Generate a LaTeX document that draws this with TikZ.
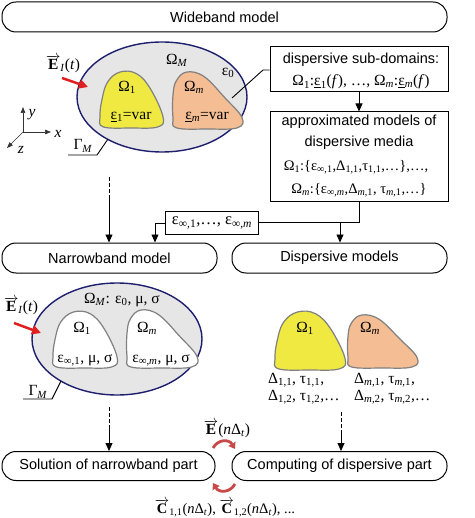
\documentclass[tikz,border=0pt]{standalone}
\usepackage{fontspec}
\setmainfont{Liberation Serif}
\newfontfamily\sansf{Liberation Sans}
\usetikzlibrary{arrows.meta}
\definecolor{navy}{HTML}{1E1E6E}
\definecolor{ellfill}{HTML}{E6E6E6}
\definecolor{yel}{HTML}{EFE941}
\definecolor{ora}{HTML}{F4BD93}
\definecolor{blobline}{HTML}{808080}
\definecolor{redarr}{HTML}{E02020}
\definecolor{curvred}{HTML}{C94848}
\newcommand{\sbs}[1]{\textsubscript{#1}}
\newcommand{\vecE}{$\overrightarrow{\mbox{\textbf{E}}}$}
\newcommand{\vecC}{$\overrightarrow{\mbox{\textbf{C}}}$}
\newcommand{\shapeA}{plot[smooth cycle, tension=0.65] coordinates {(0.12,0.18) (0.32,0.0) (0.58,0.03) (0.8,0.3) (1.0,0.8) (0.92,0.98) (0.5,1.0) (0.05,0.98) (0.0,0.8) (0.03,0.5)}}
\newcommand{\shapeB}{plot[smooth cycle, tension=0.65] coordinates {(0.05,0.15) (0.2,0.0) (0.45,0.08) (0.75,0.45) (1.0,0.8) (0.93,0.98) (0.5,1.0) (0.05,0.98) (0.0,0.8) (0.0,0.4)}}
\begin{document}
\begin{tikzpicture}[x=1pt,y=-1pt,
 rbox/.style={draw, line width=1pt, rounded corners=14pt, minimum height=30pt, inner sep=0pt, font=\sansf\fontsize{14.5}{16}\selectfont},
 sbox/.style={draw, line width=1pt, inner sep=0pt},
 stxt/.style={inner sep=0pt, font=\sansf\fontsize{14.5}{16}\selectfont},
 lab/.style={inner sep=0pt, font=\fontsize{15.5}{17}\selectfont},
 slab/.style={inner sep=0pt, font=\fontsize{14.5}{17}\selectfont},
 arr/.style={-{Triangle[length=8pt,width=7pt]}, line width=0.8pt},
 axarr/.style={-{Triangle[length=6pt,width=4.5pt]}, line width=0.7pt, black!80},
 ell/.style={draw=navy, fill=ellfill, line width=1.4pt},
 blob/.style={draw=blobline, line width=1.2pt},
 redarrow/.style={redarr, line width=2.5pt, -{Triangle[length=9pt,width=9pt]}},
 curvarrow/.style={curvred, line width=2.8pt, -{Triangle[length=6pt,width=8pt]}}
]
\useasboundingbox (0,0) rectangle (474,518);

% ---------- boxes ----------
\node[rbox, minimum width=445pt] (wide) at (224.5,17) {Wideband model};
\node[rbox, minimum width=215pt] (narrow) at (109.5,258) {Narrowband model};
\node[rbox, minimum width=215pt] (disp) at (339.5,258) {Dispersive models};
\node[rbox, minimum width=213pt, minimum height=29pt] (sol) at (108.5,466) {Solution of narrowband part};
\node[rbox, minimum width=215pt, minimum height=29pt] (comp) at (339.5,466) {Computing of dispersive part};

% ---------- top ellipse ----------
\draw[ell] (162,97) ellipse [x radius=85pt, y radius=55pt];
\begin{scope}[shift={(100,72)}, xscale=63, yscale=56]
 \draw[blob, fill=yel] \shapeA;
\end{scope}
\begin{scope}[shift={(173,72)}, xscale=69, yscale=57]
 \draw[blob, fill=ora] \shapeB;
\end{scope}
\node[lab] (omM) at (177,60) {Ω\sbs{\textit{M}}};
\node[lab] (eps0) at (228,73) {ε\sbs{0}};
\node[lab] (om1) at (127,87) {Ω\sbs{1}};
\node[lab] (e1var) at (131,117) {\underline{ε}\sbs{1}=var};
\node[lab] (omm) at (194,87) {Ω\sbs{\textit{m}}};
\node[lab] (emvar) at (207,117) {\underline{ε}\sbs{\textit{m}}=var};
\node[lab] (EI1) at (63,64) {\vecE\sbs{\textit{I}}(\textit{t})};
\coordinate (r1a) at (62,78);
\coordinate (r1b) at (88,87);
\draw[redarrow] (r1a) -- (r1b);
% axes
\coordinate (ax0) at (23,132);
\coordinate (axy) at (23,107);
\coordinate (axx) at (51,132);
\coordinate (axz) at (7,148);
\draw[axarr] (ax0) -- (axy);
\draw[axarr] (ax0) -- (axx);
\draw[axarr] (ax0) -- (axz);
\node[lab, font=\itshape\fontsize{15.5}{17}\selectfont] (ly) at (32,115) {y};
\node[lab, font=\itshape\fontsize{15.5}{17}\selectfont] (lx) at (58,134) {x};
\node[lab, font=\itshape\fontsize{15.5}{17}\selectfont] (lz) at (21,150) {z};
% Gamma_M
\node[lab] (gam1) at (83,146) {Γ\sbs{\textit{M}}};
\coordinate (g1a) at (68,155);
\coordinate (g1b) at (97,155);
\coordinate (g1c) at (108,139);
\draw[line width=0.9pt] (g1a) -- (g1b) -- (g1c);

% ---------- right boxes ----------
\node[sbox, minimum width=178pt, minimum height=45pt] (sub) at (359,69.5) {};
\node[stxt] (subt1) at (361,60) {dispersive sub-domains:};
\node[lab] (subt2) at (361,82) {Ω\sbs{1}:\underline{ε}\sbs{1}(\textit{f}), …, Ω\sbs{\textit{m}}:\underline{ε}\sbs{\textit{m}}(\textit{f})};
\coordinate (cm1) at (232,98);
\coordinate (cm2) at (263,70);
\draw[line width=0.9pt] (cm1) -- (cm2) -- (sub.west |- cm2);

\node[sbox, minimum width=178pt, minimum height=90pt] (appr) at (359,157) {};
\node[stxt] (ap1) at (359,122) {approximated models of};
\node[stxt] (ap2) at (359,143) {dispersive media};
\node[slab] (ap3) at (356,167) {Ω\sbs{1}:\{ε\sbs{∞,1},Δ\sbs{1,1},τ\sbs{1,1},…\},…,};
\node[slab] (ap4) at (359,190) {Ω\sbs{\textit{m}}:\{ε\sbs{∞,\textit{m}},Δ\sbs{\textit{m},1}, τ\sbs{\textit{m},1},…\}};
\draw[arr] (sub.south) -- (appr.north);

% splitting connector
\coordinate (j1) at (359,222);
\coordinate (j2) at (340,222);
\coordinate (j3) at (155,223);
\node[sbox, minimum width=93pt, minimum height=22pt, fill=white] (epsb) at (211.5,223) {};
\node[lab, font=\fontsize{16.5}{18}\selectfont] (epst) at (212,223) {ε\sbs{∞,1},…, ε\sbs{∞,\textit{m}}};
\draw[line width=0.9pt] (appr.south) -- (j1) -- (epsb.east |- j1);
\draw[arr] (j2) -- (disp.north -| j2);
\draw[arr] (epsb.west |- j3) -- (j3) -- (narrow.north -| j3);

% dash-dot from top ellipse
\coordinate (d1a) at (109,177);
\coordinate (d1b) at (109,197);
\draw[line width=0.9pt, dash pattern=on 4pt off 2pt] (d1a) -- (d1b);
\draw[arr] (d1b) -- (narrow.north -| d1b);

% ---------- narrowband ellipse ----------
\draw[ell] (117,339) ellipse [x radius=85pt, y radius=56pt];
\begin{scope}[shift={(53,312)}, xscale=64, yscale=56]
 \draw[blob, fill=white] \shapeA;
\end{scope}
\begin{scope}[shift={(127,310)}, xscale=70, yscale=58]
 \draw[blob, fill=white] \shapeB;
\end{scope}
\node[lab] (omM2) at (122,300) {Ω\sbs{\textit{M}}: ε\sbs{0}, μ, σ};
\node[lab] (om12) at (82,328) {Ω\sbs{1}};
\node[lab] (omm2) at (147,328) {Ω\sbs{\textit{m}}};
\node[lab] (e12) at (85,360) {ε\sbs{∞,1}, μ, σ};
\node[lab] (em2) at (161,360) {ε\sbs{∞,\textit{m}}, μ, σ};
\node[lab] (EI2) at (21,306) {\vecE\sbs{\textit{I}}(\textit{t})};
\coordinate (r2a) at (14,323);
\coordinate (r2b) at (41,333);
\draw[redarrow] (r2a) -- (r2b);
\node[lab] (gam2) at (38,392) {Γ\sbs{\textit{M}}};
\coordinate (g2a) at (23,399);
\coordinate (g2b) at (52,399);
\coordinate (g2c) at (61,381);
\draw[line width=0.9pt] (g2a) -- (g2b) -- (g2c);
\coordinate (d2a) at (109,407);
\coordinate (d2b) at (109,428);
\draw[line width=0.9pt, dash pattern=on 4pt off 2pt] (d2a) -- (d2b);
\draw[arr] (d2b) -- (sol.north -| d2b);

% ---------- dispersive blobs ----------
\begin{scope}[shift={(275,312)}, xscale=70, yscale=58]
 \draw[blob, fill=yel] \shapeA;
\end{scope}
\begin{scope}[shift={(348,315)}, xscale=69, yscale=53]
 \draw[blob, fill=ora] \shapeB;
\end{scope}
\node[lab] (om13) at (305,328) {Ω\sbs{1}};
\node[lab] (omm3) at (370,328) {Ω\sbs{\textit{m}}};
\node[lab, anchor=west] (dl1) at (268,380) {Δ\sbs{1,1}, τ\sbs{1,1},};
\node[lab, anchor=west] (dl2) at (268,397) {Δ\sbs{1,2}, τ\sbs{1,2},…};
\node[lab, anchor=west] (dm1) at (354,380) {Δ\sbs{\textit{m},1}, τ\sbs{\textit{m},1},};
\node[lab, anchor=west] (dm2) at (354,397) {Δ\sbs{\textit{m},2}, τ\sbs{\textit{m},2},…};
\coordinate (d3a) at (341,412);
\coordinate (d3b) at (341,432);
\draw[line width=0.9pt, dash pattern=on 4pt off 2pt] (d3a) -- (d3b);
\draw[arr] (d3b) -- (comp.north -| d3b);

% ---------- exchange arrows ----------
\node[lab] (En) at (227,429) {\vecE(\textit{n}Δ\sbs{\textit{t}})};
\coordinate (ca1) at (213,448);
\coordinate (ca2) at (235,449);
\draw[curvarrow] (ca1) .. controls (218,439) and (229,439) .. (ca2);
\coordinate (cb1) at (235,484);
\coordinate (cb2) at (213,483);
\draw[curvarrow] (cb1) .. controls (230,493) and (219,493) .. (cb2);
\node[slab] (Cn) at (225,508) {\vecC\sbs{1,1}(\textit{n}Δ\sbs{\textit{t}}), \vecC\sbs{1,2}(\textit{n}Δ\sbs{\textit{t}}), ...};
\end{tikzpicture}
\end{document}
